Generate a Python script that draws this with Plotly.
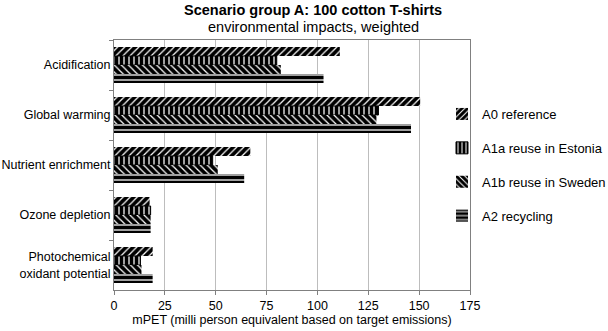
import plotly.graph_objects as go

categories = ["Acidification", "Global warming", "Nutrient enrichment", "Ozone depletion",
              "Photochemical<br>oxidant potential"]
series_names = ["A0 reference", "A1a reuse in Estonia", "A1b reuse in Sweden", "A2 recycling"]
a0_reference = [111, 150.5, 67, 17.5, 19]
a1a_reuse_estonia = [80, 130, 48.5, 18, 13]
a1b_reuse_sweden = [82, 129, 51, 18, 13.5]
a2_recycling = [103, 146, 64, 18, 19]
x_ticks = [0, 25, 50, 75, 100, 125, 150, 175]

series_values = [a0_reference, a1a_reuse_estonia, a1b_reuse_sweden, a2_recycling]
patterns = ["/", "|", "\\", "-"]
outline = [0, 1, 0, 0]

fig = go.Figure()
for name, vals, pat, ow in zip(series_names, series_values, patterns, outline):
    fig.add_trace(go.Bar(
        y=categories, x=vals, name=name, orientation="h", legendgroup=name,
        marker=dict(color="black", line=dict(width=ow, color="black"),
                    pattern=dict(shape=pat, fgcolor="black", bgcolor="white", fgopacity=1,
                                 size=5, solidity=0.75)),
    ))

font = "Liberation Sans, Arial, sans-serif"
W, H = 608, 331
L, R, T, B = 114, 138, 40, 41
pw = W - L - R
ph = H - T - B
fig.update_layout(
    width=W, height=H,
    margin=dict(l=L, r=R, t=T, b=B, autoexpand=False),
    paper_bgcolor="white", plot_bgcolor="white",
    font=dict(family=font, size=12.5, color="black"),
    barmode="group", bargap=0.28, bargroupgap=0,
    legend=dict(x=(442 - L) / pw, xanchor="left", y=0.5, yanchor="middle",
                traceorder="grouped", tracegroupgap=14, font=dict(size=13), itemwidth=30,
                bgcolor="rgba(0,0,0,0)"),
    showlegend=True,
    annotations=[
        dict(text="<b>Scenario group A: 100 cotton T-shirts</b>", xref="paper", yref="paper",
             x=(313 - L) / pw, y=1 + (T - 10) / ph, xanchor="center", yanchor="middle",
             showarrow=False, font=dict(size=14.5)),
        dict(text="environmental impacts, weighted", xref="paper", yref="paper",
             x=(313 - L) / pw, y=1 + (T - 27) / ph, xanchor="center", yanchor="middle",
             showarrow=False, font=dict(size=14.5)),
    ],
)
fig.update_xaxes(range=[0, 175], tickvals=x_ticks, showgrid=True, gridcolor="#bdbdbd",
                 gridwidth=1, zeroline=False, showline=True, linecolor="#808080", mirror=True,
                 ticks="outside", ticklen=4, tickcolor="#808080", automargin=False,
                 title=dict(text="mPET (milli person equivalent based on target emissions)",
                            font=dict(size=12.5), standoff=3))
fig.update_yaxes(autorange="reversed", showline=True, linecolor="#808080", mirror=True,
                 ticks="outside", tickson="boundaries", ticklen=4, tickcolor="#808080",
                 showgrid=False, automargin=False)
fig.write_html("out.html", config={"displayModeBar": False},
               post_script="document.body.style.margin='0px';")
